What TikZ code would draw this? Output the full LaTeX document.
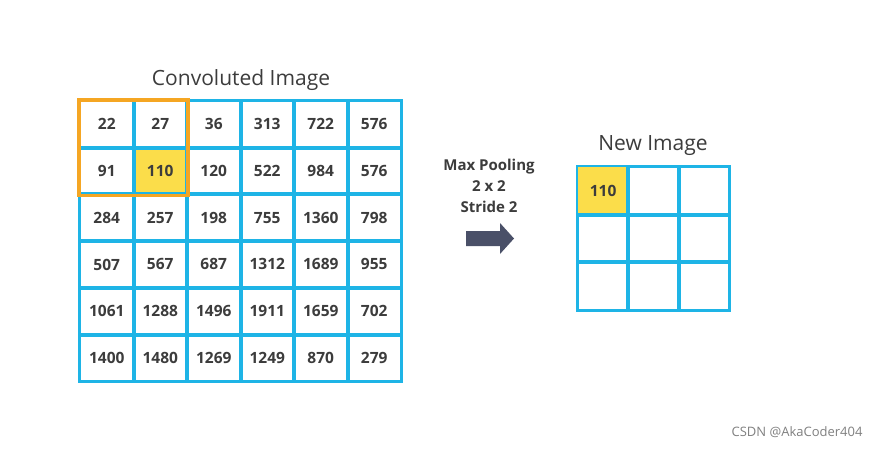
\documentclass[tikz,border=0pt]{standalone}
\usepackage{fontspec}
\setmainfont{Open Sans}
\newcommand\semib{\bfseries}
\definecolor{gridblue}{HTML}{1EB4E6}
\definecolor{orng}{HTML}{F5A623}
\definecolor{ylw}{HTML}{FBDD4A}
\definecolor{txt}{HTML}{3C3C3C}
\definecolor{arr}{HTML}{4A5068}
\begin{document}
\begin{tikzpicture}[x=1pt,y=-1pt,
  cell/.style={draw=gridblue,line width=2pt,minimum width=53.5pt,minimum height=46.7pt,inner sep=0pt},
  ncell/.style={draw=gridblue,line width=2pt,minimum width=50.3pt,minimum height=47.7pt,inner sep=0pt},
  num/.style={font=\semib\fontsize{15.5}{18}\selectfont,text=txt},
  lbl/.style={font=\semib\fontsize{15}{21}\selectfont,text=txt,align=center},
  ttl/.style={font=\fontsize{21}{25}\selectfont,text=txt}]
\useasboundingbox (0,0) rectangle (880,448);
\fill[white] (0,0) rectangle (880,448);
\foreach \row [count=\r] in {{22,27,36,313,722,576},{91,110,120,522,984,576},{284,257,198,755,1360,798},{507,567,687,1312,1689,955},{1061,1288,1496,1911,1659,702},{1400,1480,1269,1249,870,279}}{
  \foreach \v [count=\c] in \row {
    \node[cell] (a-\r-\c) at ({80+53.5*(\c-0.5)},{101+46.7*(\r-0.5)}) {};
  }
}
\fill[ylw] (a-2-2.north west) rectangle (a-2-2.south east);
\foreach \row [count=\r] in {{22,27,36,313,722,576},{91,110,120,522,984,576},{284,257,198,755,1360,798},{507,567,687,1312,1689,955},{1061,1288,1496,1911,1659,702},{1400,1480,1269,1249,870,279}}{
  \foreach \v [count=\c] in \row {
    \draw[gridblue,line width=2pt] (a-\r-\c.north west) rectangle (a-\r-\c.south east);
    \node[num] at (a-\r-\c) {\v};
  }
}
\draw[orng,line width=3.5pt] (a-1-1.north west) rectangle (a-2-2.south east);
\node[ttl] (t1) at (241,80) {Convoluted Image};
% new image
\foreach \r in {1,2,3}{\foreach \c in {1,2,3}{
  \node[ncell] (b-\r-\c) at ({578+50.3*(\c-0.5)},{167+47.7*(\r-0.5)}) {};
}}
\fill[ylw] (b-1-1.north west) rectangle (b-1-1.south east);
\foreach \r in {1,2,3}{\foreach \c in {1,2,3}{
  \draw[gridblue,line width=2pt] (b-\r-\c.north west) rectangle (b-\r-\c.south east);
}}
\node[num] at (b-1-1) {110};
\node[ttl] (t2) at (653,146) {New Image};
\node[lbl] (lab) at (489,186) {Max Pooling\\2 x 2\\Stride 2};
\fill[arr] (466,231) -- (500,231) -- (500,223) -- (514,238.5) -- (500,254) -- (500,246) -- (466,246) -- cycle;
\node[font=\fontsize{13}{15}\selectfont,text=gray,anchor=east] (wm) at (866,432) {CSDN @AkaCoder404};
\end{tikzpicture}
\end{document}
